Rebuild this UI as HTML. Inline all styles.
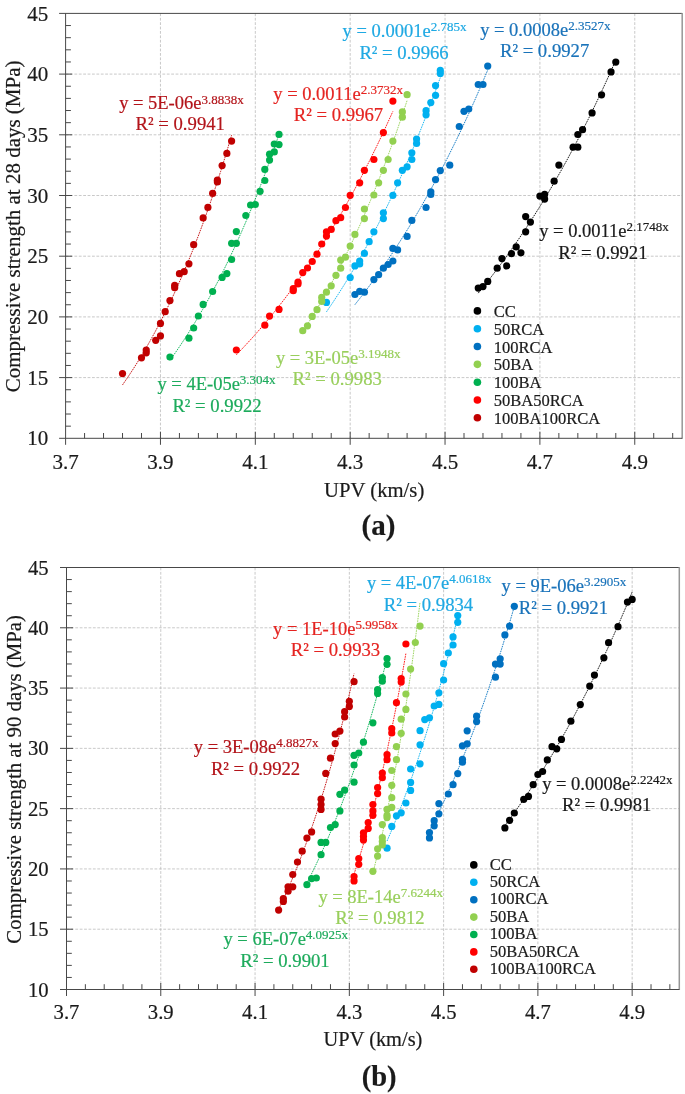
<!DOCTYPE html>
<html><head><meta charset="utf-8"><title>Compressive strength vs UPV</title>
<style>
html,body{margin:0;padding:0;background:#fff;}
body{width:685px;height:1094px;overflow:hidden;}
svg{display:block;font-family:"Liberation Serif","Times New Roman",serif;fill:#1a1a1a;}
text{stroke:#1a1a1a;stroke-width:.2px;}
</style></head><body>
<svg width="685" height="1094" viewBox="0 0 685 1094">
<rect width="685" height="1094" fill="#ffffff"/>
<g id="panel-a">
<path d="M160.46 13.40V438.30M255.32 13.40V438.30M350.18 13.40V438.30M445.04 13.40V438.30M539.90 13.40V438.30M634.76 13.40V438.30M65.60 377.60H682.19M65.60 316.90H682.19M65.60 256.20H682.19M65.60 195.50H682.19M65.60 134.80H682.19M65.60 74.10H682.19" stroke="#b2b2b2" stroke-width="0.7" stroke-dasharray="2.8 1.6" fill="none"/>
<path d="M59.10 13.40H682.19" stroke="#484848" stroke-width="1" fill="none"/>
<path d="M682.19 12.90V438.80" stroke="#969696" stroke-width="1.5" fill="none"/>
<path d="M65.60 13.40V444.80M59.10 438.30H682.19M65.60 426.16H70.90M65.60 414.02H70.90M65.60 401.88H70.90M65.60 389.74H70.90M59.10 377.60H72.10M65.60 365.46H70.90M65.60 353.32H70.90M65.60 341.18H70.90M65.60 329.04H70.90M59.10 316.90H72.10M65.60 304.76H70.90M65.60 292.62H70.90M65.60 280.48H70.90M65.60 268.34H70.90M59.10 256.20H72.10M65.60 244.06H70.90M65.60 231.92H70.90M65.60 219.78H70.90M65.60 207.64H70.90M59.10 195.50H72.10M65.60 183.36H70.90M65.60 171.22H70.90M65.60 159.08H70.90M65.60 146.94H70.90M59.10 134.80H72.10M65.60 122.66H70.90M65.60 110.52H70.90M65.60 98.38H70.90M65.60 86.24H70.90M59.10 74.10H72.10M65.60 61.96H70.90M65.60 49.82H70.90M65.60 37.68H70.90M65.60 25.54H70.90M84.57 438.30V433.00M103.54 438.30V433.00M122.52 438.30V433.00M141.49 438.30V433.00M160.46 431.80V444.80M179.43 438.30V433.00M198.40 438.30V433.00M217.38 438.30V433.00M236.35 438.30V433.00M255.32 431.80V444.80M274.29 438.30V433.00M293.26 438.30V433.00M312.24 438.30V433.00M331.21 438.30V433.00M350.18 431.80V444.80M369.15 438.30V433.00M388.12 438.30V433.00M407.10 438.30V433.00M426.07 438.30V433.00M445.04 431.80V444.80M464.01 438.30V433.00M482.98 438.30V433.00M501.96 438.30V433.00M520.93 438.30V433.00M539.90 431.80V444.80M558.87 438.30V433.00M577.84 438.30V433.00M596.82 438.30V433.00M615.79 438.30V433.00M634.76 431.80V444.80M653.73 438.30V433.00M672.70 438.30V433.00" stroke="#484848" stroke-width="1" fill="none"/>
<polyline points="478.24,293.15 485.12,284.64 492.00,275.87 498.87,266.81 505.75,257.47 512.63,247.83 519.51,237.88 526.38,227.61 533.26,217.01 540.14,206.08 547.01,194.80 553.89,183.16 560.77,171.15 567.65,158.75 574.52,145.96 581.40,132.76 588.28,119.14 595.16,105.08 602.03,90.58 608.91,75.61 615.79,60.17" stroke="#000000" stroke-width="0.9" stroke-dasharray="1.6 0.9" fill="none"/>
<polyline points="354.92,304.66 361.56,296.21 368.20,287.47 374.84,278.44 381.48,269.12 388.12,259.49 394.76,249.53 401.40,239.25 408.04,228.63 414.68,217.65 421.33,206.31 427.97,194.59 434.61,182.49 441.25,169.98 447.89,157.06 454.53,143.71 461.17,129.92 467.81,115.67 474.45,100.95 481.09,85.74 487.73,70.03" stroke="#0070c0" stroke-width="0.9" stroke-dasharray="1.6 0.9" fill="none"/>
<polyline points="326.46,311.87 332.16,303.48 337.85,294.81 343.54,285.85 349.23,276.59 354.92,267.01 360.61,257.10 366.31,246.87 372.00,236.28 377.69,225.34 383.38,214.03 389.07,202.33 394.76,190.24 400.46,177.74 406.15,164.81 411.84,151.45 417.53,137.64 423.22,123.36 428.91,108.60 434.61,93.33 440.30,77.56" stroke="#00b0f0" stroke-width="0.9" stroke-dasharray="1.6 0.9" fill="none"/>
<polyline points="302.75,331.68 307.97,323.56 313.18,315.14 318.40,306.43 323.62,297.41 328.84,288.06 334.05,278.39 339.27,268.36 344.49,257.99 349.71,247.24 354.92,236.11 360.14,224.58 365.36,212.64 370.57,200.27 375.79,187.47 381.01,174.21 386.23,160.48 391.44,146.25 396.66,131.52 401.88,116.27 407.10,100.47" stroke="#92d050" stroke-width="0.9" stroke-dasharray="1.6 0.9" fill="none"/>
<polyline points="169.95,360.32 175.40,352.63 180.85,344.63 186.31,336.32 191.76,327.70 197.22,318.74 202.67,309.43 208.13,299.77 213.58,289.73 219.04,279.31 224.49,268.48 229.94,257.24 235.40,245.56 240.85,233.43 246.31,220.83 251.76,207.74 257.22,194.15 262.67,180.04 268.13,165.37 273.58,150.15 279.04,134.33" stroke="#00b050" stroke-width="0.9" stroke-dasharray="1.6 0.9" fill="none"/>
<polyline points="236.35,354.83 244.17,346.64 252.00,338.14 259.83,329.29 267.65,320.09 275.48,310.52 283.30,300.57 291.13,290.23 298.96,279.47 306.78,268.28 314.61,256.64 322.43,244.54 330.26,231.95 338.09,218.87 345.91,205.26 353.74,191.10 361.56,176.39 369.39,161.08 377.22,145.16 385.04,128.61 392.87,111.40" stroke="#ff0000" stroke-width="0.9" stroke-dasharray="1.6 0.9" fill="none"/>
<polyline points="122.52,384.91 127.97,376.98 133.42,368.69 138.88,360.03 144.33,350.97 149.79,341.50 155.24,331.61 160.70,321.26 166.15,310.44 171.61,299.14 177.06,287.32 182.51,274.96 187.97,262.04 193.42,248.54 198.88,234.43 204.33,219.67 209.79,204.25 215.24,188.12 220.70,171.27 226.15,153.65 231.60,135.23" stroke="#c00000" stroke-width="0.9" stroke-dasharray="1.6 0.9" fill="none"/>
<g fill="#000000"><circle cx="478.24" cy="288.1" r="3.6"/><circle cx="482.98" cy="286.6" r="3.6"/><circle cx="487.73" cy="281.4" r="3.6"/><circle cx="497.21" cy="268.2" r="3.6"/><circle cx="501.96" cy="258.6" r="3.6"/><circle cx="506.70" cy="265.9" r="3.6"/><circle cx="511.44" cy="253.6" r="3.6"/><circle cx="516.19" cy="246.9" r="3.6"/><circle cx="520.93" cy="252.8" r="3.6"/><circle cx="525.67" cy="231.8" r="3.6"/><circle cx="525.67" cy="216.6" r="3.6"/><circle cx="530.41" cy="222.1" r="3.6"/><circle cx="539.90" cy="196.1" r="3.6"/><circle cx="544.64" cy="194.4" r="3.6"/><circle cx="544.64" cy="199.1" r="3.6"/><circle cx="554.13" cy="181.2" r="3.6"/><circle cx="558.87" cy="165.1" r="3.6"/><circle cx="573.10" cy="147.2" r="3.6"/><circle cx="577.84" cy="147.2" r="3.6"/><circle cx="577.84" cy="134.5" r="3.6"/><circle cx="582.59" cy="129.7" r="3.6"/><circle cx="592.07" cy="112.9" r="3.6"/><circle cx="601.56" cy="94.8" r="3.6"/><circle cx="611.05" cy="71.9" r="3.6"/><circle cx="615.79" cy="62.1" r="3.6"/></g>
<g fill="#0070c0"><circle cx="354.92" cy="294.5" r="3.6"/><circle cx="359.67" cy="291.3" r="3.6"/><circle cx="364.41" cy="292.2" r="3.6"/><circle cx="373.89" cy="279.6" r="3.6"/><circle cx="378.64" cy="274.7" r="3.6"/><circle cx="383.38" cy="268.2" r="3.6"/><circle cx="388.12" cy="264.5" r="3.6"/><circle cx="392.87" cy="261.0" r="3.6"/><circle cx="392.87" cy="248.4" r="3.6"/><circle cx="397.61" cy="249.9" r="3.6"/><circle cx="407.10" cy="236.4" r="3.6"/><circle cx="411.84" cy="220.4" r="3.6"/><circle cx="426.07" cy="207.5" r="3.6"/><circle cx="430.81" cy="191.8" r="3.6"/><circle cx="430.81" cy="194.4" r="3.6"/><circle cx="435.55" cy="179.6" r="3.6"/><circle cx="440.30" cy="170.6" r="3.6"/><circle cx="449.78" cy="165.2" r="3.6"/><circle cx="459.27" cy="126.5" r="3.6"/><circle cx="464.01" cy="111.3" r="3.6"/><circle cx="468.75" cy="109.0" r="3.6"/><circle cx="478.24" cy="84.5" r="3.6"/><circle cx="482.98" cy="84.5" r="3.6"/><circle cx="487.73" cy="66.1" r="3.6"/></g>
<g fill="#00b0f0"><circle cx="326.47" cy="302.4" r="3.6"/><circle cx="350.18" cy="277.6" r="3.6"/><circle cx="354.92" cy="265.9" r="3.6"/><circle cx="359.67" cy="261.0" r="3.6"/><circle cx="359.67" cy="264.0" r="3.6"/><circle cx="364.41" cy="253.4" r="3.6"/><circle cx="369.15" cy="241.7" r="3.6"/><circle cx="373.89" cy="231.8" r="3.6"/><circle cx="383.38" cy="218.6" r="3.6"/><circle cx="383.38" cy="212.8" r="3.6"/><circle cx="392.87" cy="195.3" r="3.6"/><circle cx="397.61" cy="182.8" r="3.6"/><circle cx="402.35" cy="170.3" r="3.6"/><circle cx="407.10" cy="166.8" r="3.6"/><circle cx="411.84" cy="159.5" r="3.6"/><circle cx="411.84" cy="152.8" r="3.6"/><circle cx="416.58" cy="139.1" r="3.6"/><circle cx="416.58" cy="143.4" r="3.6"/><circle cx="426.07" cy="110.7" r="3.6"/><circle cx="426.07" cy="114.8" r="3.6"/><circle cx="430.81" cy="102.6" r="3.6"/><circle cx="435.55" cy="95.3" r="3.6"/><circle cx="435.55" cy="85.6" r="3.6"/><circle cx="440.30" cy="70.4" r="3.6"/><circle cx="440.30" cy="73.4" r="3.6"/></g>
<g fill="#92d050"><circle cx="302.75" cy="330.7" r="3.6"/><circle cx="307.49" cy="325.8" r="3.6"/><circle cx="312.24" cy="316.4" r="3.6"/><circle cx="316.98" cy="309.7" r="3.6"/><circle cx="321.72" cy="297.4" r="3.6"/><circle cx="321.72" cy="301.5" r="3.6"/><circle cx="326.47" cy="292.2" r="3.6"/><circle cx="331.21" cy="285.8" r="3.6"/><circle cx="335.95" cy="275.3" r="3.6"/><circle cx="340.69" cy="268.2" r="3.6"/><circle cx="340.69" cy="260.1" r="3.6"/><circle cx="345.44" cy="257.2" r="3.6"/><circle cx="350.18" cy="246.1" r="3.6"/><circle cx="354.92" cy="234.4" r="3.6"/><circle cx="364.41" cy="218.6" r="3.6"/><circle cx="364.41" cy="209.0" r="3.6"/><circle cx="373.89" cy="195.0" r="3.6"/><circle cx="378.64" cy="182.8" r="3.6"/><circle cx="383.38" cy="170.3" r="3.6"/><circle cx="388.12" cy="159.5" r="3.6"/><circle cx="392.87" cy="141.1" r="3.6"/><circle cx="402.35" cy="111.9" r="3.6"/><circle cx="402.35" cy="117.2" r="3.6"/><circle cx="407.10" cy="94.7" r="3.6"/></g>
<g fill="#00b050"><circle cx="279.03" cy="134.4" r="3.6"/><circle cx="274.29" cy="144.0" r="3.6"/><circle cx="279.03" cy="144.6" r="3.6"/><circle cx="274.29" cy="151.9" r="3.6"/><circle cx="269.55" cy="154.2" r="3.6"/><circle cx="269.55" cy="160.1" r="3.6"/><circle cx="264.81" cy="169.4" r="3.6"/><circle cx="264.81" cy="180.5" r="3.6"/><circle cx="260.06" cy="191.3" r="3.6"/><circle cx="255.32" cy="204.5" r="3.6"/><circle cx="250.58" cy="205.0" r="3.6"/><circle cx="245.83" cy="215.5" r="3.6"/><circle cx="236.35" cy="231.6" r="3.6"/><circle cx="231.61" cy="243.3" r="3.6"/><circle cx="236.35" cy="243.3" r="3.6"/><circle cx="231.61" cy="259.5" r="3.6"/><circle cx="226.86" cy="273.6" r="3.6"/><circle cx="222.12" cy="277.4" r="3.6"/><circle cx="212.63" cy="291.5" r="3.6"/><circle cx="203.15" cy="304.4" r="3.6"/><circle cx="198.40" cy="316.0" r="3.6"/><circle cx="193.66" cy="328.0" r="3.6"/><circle cx="188.92" cy="338.2" r="3.6"/><circle cx="169.95" cy="357.0" r="3.6"/></g>
<g fill="#ff0000"><circle cx="236.35" cy="350.0" r="3.6"/><circle cx="264.81" cy="325.2" r="3.6"/><circle cx="269.55" cy="316.1" r="3.6"/><circle cx="279.03" cy="309.4" r="3.6"/><circle cx="293.26" cy="288.7" r="3.6"/><circle cx="293.26" cy="290.7" r="3.6"/><circle cx="298.01" cy="282.0" r="3.6"/><circle cx="298.01" cy="284.0" r="3.6"/><circle cx="302.75" cy="272.6" r="3.6"/><circle cx="307.49" cy="268.0" r="3.6"/><circle cx="312.24" cy="261.5" r="3.6"/><circle cx="316.98" cy="254.2" r="3.6"/><circle cx="321.72" cy="244.0" r="3.6"/><circle cx="326.47" cy="231.8" r="3.6"/><circle cx="326.47" cy="236.1" r="3.6"/><circle cx="331.21" cy="229.4" r="3.6"/><circle cx="335.95" cy="220.7" r="3.6"/><circle cx="340.69" cy="217.7" r="3.6"/><circle cx="345.44" cy="207.5" r="3.6"/><circle cx="350.18" cy="195.3" r="3.6"/><circle cx="359.67" cy="182.8" r="3.6"/><circle cx="364.41" cy="170.3" r="3.6"/><circle cx="373.89" cy="159.5" r="3.6"/><circle cx="383.38" cy="132.6" r="3.6"/><circle cx="392.87" cy="101.1" r="3.6"/></g>
<g fill="#c00000"><circle cx="231.61" cy="141.1" r="3.6"/><circle cx="226.86" cy="153.4" r="3.6"/><circle cx="222.12" cy="165.6" r="3.6"/><circle cx="217.38" cy="180.2" r="3.6"/><circle cx="217.38" cy="182.0" r="3.6"/><circle cx="212.63" cy="193.4" r="3.6"/><circle cx="207.89" cy="207.4" r="3.6"/><circle cx="203.15" cy="217.9" r="3.6"/><circle cx="193.66" cy="244.7" r="3.6"/><circle cx="188.92" cy="263.8" r="3.6"/><circle cx="184.18" cy="271.7" r="3.6"/><circle cx="179.43" cy="273.7" r="3.6"/><circle cx="174.69" cy="285.4" r="3.6"/><circle cx="174.69" cy="287.7" r="3.6"/><circle cx="169.95" cy="300.6" r="3.6"/><circle cx="165.20" cy="311.7" r="3.6"/><circle cx="160.46" cy="323.4" r="3.6"/><circle cx="160.46" cy="335.9" r="3.6"/><circle cx="155.72" cy="340.3" r="3.6"/><circle cx="146.23" cy="350.0" r="3.6"/><circle cx="146.23" cy="352.8" r="3.6"/><circle cx="141.49" cy="357.8" r="3.6"/><circle cx="122.52" cy="373.6" r="3.6"/></g>
<text x="48.2" y="445.40" font-size="21" text-anchor="end">10</text>
<text x="48.2" y="384.70" font-size="21" text-anchor="end">15</text>
<text x="48.2" y="324.00" font-size="21" text-anchor="end">20</text>
<text x="48.2" y="263.30" font-size="21" text-anchor="end">25</text>
<text x="48.2" y="202.60" font-size="21" text-anchor="end">30</text>
<text x="48.2" y="141.90" font-size="21" text-anchor="end">35</text>
<text x="48.2" y="81.20" font-size="21" text-anchor="end">40</text>
<text x="48.2" y="20.50" font-size="21" text-anchor="end">45</text>
<text x="65.60" y="468.9" font-size="21" text-anchor="middle">3.7</text>
<text x="160.46" y="468.9" font-size="21" text-anchor="middle">3.9</text>
<text x="255.32" y="468.9" font-size="21" text-anchor="middle">4.1</text>
<text x="350.18" y="468.9" font-size="21" text-anchor="middle">4.3</text>
<text x="445.04" y="468.9" font-size="21" text-anchor="middle">4.5</text>
<text x="539.90" y="468.9" font-size="21" text-anchor="middle">4.7</text>
<text x="634.76" y="468.9" font-size="21" text-anchor="middle">4.9</text>
<text x="374.2" y="496.7" font-size="20.7" text-anchor="middle">UPV (km/s)</text>
<text transform="translate(20.2 226.4) rotate(-90)" font-size="21" text-anchor="middle">Compressive strength at 28 days (MPa)</text>
<text x="378.4" y="534.8" font-size="29" font-weight="bold" text-anchor="middle">(a)</text>
<circle cx="477.4" cy="310.90" r="3.8" fill="#000000"/>
<text x="493.8" y="316.90" font-size="16.5">CC</text>
<circle cx="477.4" cy="328.72" r="3.8" fill="#00b0f0"/>
<text x="493.8" y="334.72" font-size="16.5">50RCA</text>
<circle cx="477.4" cy="346.54" r="3.8" fill="#0070c0"/>
<text x="493.8" y="352.54" font-size="16.5">100RCA</text>
<circle cx="477.4" cy="364.36" r="3.8" fill="#92d050"/>
<text x="493.8" y="370.36" font-size="16.5">50BA</text>
<circle cx="477.4" cy="382.18" r="3.8" fill="#00b050"/>
<text x="493.8" y="388.18" font-size="16.5">100BA</text>
<circle cx="477.4" cy="400.00" r="3.8" fill="#ff0000"/>
<text x="493.8" y="406.00" font-size="16.5">50BA50RCA</text>
<circle cx="477.4" cy="417.82" r="3.8" fill="#c00000"/>
<text x="493.8" y="423.82" font-size="16.5">100BA100RCA</text>
<text fill="#b3141a" style="stroke:#b3141a" font-size="18.5" text-anchor="middle"><tspan x="181.45" y="109.4">y = 5E-06e</tspan><tspan dy="-5.9" font-size="13">3.8838x</tspan><tspan x="180.25" y="130.3" font-size="18.7">R² = 0.9941</tspan></text>
<text fill="#e52421" style="stroke:#e52421" font-size="18.5" text-anchor="middle"><tspan x="338.1" y="99.8">y = 0.0011e</tspan><tspan dy="-5.9" font-size="13">2.3732x</tspan><tspan x="338.5" y="121.4" font-size="18.7">R² = 0.9967</tspan></text>
<text fill="#1fa9e3" style="stroke:#1fa9e3" font-size="18.5" text-anchor="middle"><tspan x="404.5" y="36.9">y = 0.0001e</tspan><tspan dy="-5.9" font-size="13">2.785x</tspan><tspan x="404.05" y="58.5" font-size="18.7">R² = 0.9966</tspan></text>
<text fill="#1a73ba" style="stroke:#1a73ba" font-size="18.5" text-anchor="middle"><tspan x="545.3" y="36.0">y = 0.0008e</tspan><tspan dy="-5.9" font-size="13">2.3527x</tspan><tspan x="544.6" y="57.0" font-size="18.7">R² = 0.9927</tspan></text>
<text fill="#1a1a1a" style="stroke:#1a1a1a" font-size="18.5" text-anchor="middle"><tspan x="604.0" y="237">y = 0.0011e</tspan><tspan dy="-5.9" font-size="13">2.1748x</tspan><tspan x="602.9" y="258.6" font-size="18.7">R² = 0.9921</tspan></text>
<text fill="#99cf5c" style="stroke:#99cf5c" font-size="18.5" text-anchor="middle"><tspan x="338.2" y="364.0">y = 3E-05e</tspan><tspan dy="-5.9" font-size="13">3.1948x</tspan><tspan x="337.2" y="384.7" font-size="18.7">R² = 0.9983</tspan></text>
<text fill="#1dab5c" style="stroke:#1dab5c" font-size="18.5" text-anchor="middle"><tspan x="216.55" y="390">y = 4E-05e</tspan><tspan dy="-5.9" font-size="13">3.304x</tspan><tspan x="217.05" y="412.0" font-size="18.7">R² = 0.9922</tspan></text>
</g>
<g id="panel-b">
<path d="M160.78 567.50V989.50M255.05 567.50V989.50M349.33 567.50V989.50M443.61 567.50V989.50M537.88 567.50V989.50M632.16 567.50V989.50M66.50 929.21H679.30M66.50 868.93H679.30M66.50 808.64H679.30M66.50 748.36H679.30M66.50 688.07H679.30M66.50 627.79H679.30" stroke="#b2b2b2" stroke-width="0.7" stroke-dasharray="2.8 1.6" fill="none"/>
<path d="M60.00 567.50H679.30" stroke="#484848" stroke-width="1" fill="none"/>
<path d="M679.30 567.00V990.00" stroke="#969696" stroke-width="1.5" fill="none"/>
<path d="M66.50 567.50V996.00M60.00 989.50H679.30M66.50 977.44H71.80M66.50 965.39H71.80M66.50 953.33H71.80M66.50 941.27H71.80M60.00 929.21H73.00M66.50 917.16H71.80M66.50 905.10H71.80M66.50 893.04H71.80M66.50 880.99H71.80M60.00 868.93H73.00M66.50 856.87H71.80M66.50 844.81H71.80M66.50 832.76H71.80M66.50 820.70H71.80M60.00 808.64H73.00M66.50 796.59H71.80M66.50 784.53H71.80M66.50 772.47H71.80M66.50 760.41H71.80M60.00 748.36H73.00M66.50 736.30H71.80M66.50 724.24H71.80M66.50 712.19H71.80M66.50 700.13H71.80M60.00 688.07H73.00M66.50 676.01H71.80M66.50 663.96H71.80M66.50 651.90H71.80M66.50 639.84H71.80M60.00 627.79H73.00M66.50 615.73H71.80M66.50 603.67H71.80M66.50 591.61H71.80M66.50 579.56H71.80M85.36 989.50V984.20M104.21 989.50V984.20M123.07 989.50V984.20M141.92 989.50V984.20M160.78 983.00V996.00M179.63 989.50V984.20M198.49 989.50V984.20M217.34 989.50V984.20M236.20 989.50V984.20M255.05 983.00V996.00M273.91 989.50V984.20M292.76 989.50V984.20M311.62 989.50V984.20M330.48 989.50V984.20M349.33 983.00V996.00M368.19 989.50V984.20M387.04 989.50V984.20M405.90 989.50V984.20M424.75 989.50V984.20M443.61 983.00V996.00M462.46 989.50V984.20M481.32 989.50V984.20M500.17 989.50V984.20M519.03 989.50V984.20M537.88 983.00V996.00M556.74 989.50V984.20M575.60 989.50V984.20M594.45 989.50V984.20M613.31 989.50V984.20M632.16 983.00V996.00M651.02 989.50V984.20M669.87 989.50V984.20" stroke="#484848" stroke-width="1" fill="none"/>
<polyline points="504.89,825.62 511.25,816.97 517.62,808.05 523.98,798.86 530.34,789.39 536.71,779.63 543.07,769.58 549.43,759.22 555.80,748.54 562.16,737.54 568.52,726.20 574.89,714.52 581.25,702.49 587.62,690.09 593.98,677.31 600.34,664.14 606.71,650.57 613.07,636.59 619.43,622.18 625.80,607.34 632.16,592.04" stroke="#000000" stroke-width="0.9" stroke-dasharray="1.6 0.9" fill="none"/>
<polyline points="429.47,830.79 433.71,822.43 437.95,813.83 442.19,804.96 446.44,795.83 450.68,786.43 454.92,776.75 459.16,766.78 463.41,756.51 467.65,745.93 471.89,735.03 476.13,723.81 480.38,712.25 484.62,700.35 488.86,688.09 493.10,675.47 497.35,662.47 501.59,649.07 505.83,635.28 510.07,621.08 514.32,606.44" stroke="#0070c0" stroke-width="0.9" stroke-dasharray="1.6 0.9" fill="none"/>
<polyline points="387.04,841.03 390.58,832.74 394.11,824.20 397.65,815.40 401.18,806.33 404.72,796.98 408.25,787.33 411.79,777.40 415.32,767.15 418.86,756.60 422.40,745.71 425.93,734.49 429.47,722.93 433.00,711.01 436.54,698.72 440.07,686.06 443.61,673.00 447.14,659.54 450.68,645.67 454.21,631.37 457.75,616.63" stroke="#00b0f0" stroke-width="0.9" stroke-dasharray="1.6 0.9" fill="none"/>
<polyline points="372.90,872.80 375.26,863.60 377.61,854.04 379.97,844.11 382.33,833.80 384.68,823.09 387.04,811.96 389.40,800.40 391.76,788.39 394.11,775.92 396.47,762.96 398.83,749.50 401.18,735.52 403.54,721.00 405.90,705.91 408.25,690.24 410.61,673.96 412.97,657.05 415.32,639.49 417.68,621.24 420.04,602.28" stroke="#92d050" stroke-width="0.9" stroke-dasharray="1.6 0.9" fill="none"/>
<polyline points="306.91,883.11 310.91,875.17 314.92,866.95 318.93,858.45 322.93,849.65 326.94,840.54 330.95,831.12 334.95,821.36 338.96,811.26 342.97,800.81 346.97,790.00 350.98,778.80 354.99,767.22 358.99,755.22 363.00,742.81 367.01,729.97 371.01,716.68 375.02,702.92 379.03,688.68 383.03,673.94 387.04,658.69" stroke="#00b050" stroke-width="0.9" stroke-dasharray="1.6 0.9" fill="none"/>
<polyline points="354.04,874.05 356.64,866.13 359.23,857.94 361.82,849.48 364.42,840.74 367.01,831.71 369.60,822.37 372.19,812.71 374.79,802.74 377.38,792.43 379.97,781.77 382.56,770.76 385.16,759.37 387.75,747.61 390.34,735.45 392.93,722.88 395.53,709.89 398.12,696.46 400.71,682.59 403.30,668.25 405.90,653.42" stroke="#ff0000" stroke-width="0.9" stroke-dasharray="1.6 0.9" fill="none"/>
<polyline points="278.62,909.23 282.39,901.29 286.17,893.03 289.94,884.44 293.71,875.51 297.48,866.23 301.25,856.58 305.02,846.55 308.79,836.13 312.56,825.29 316.33,814.02 320.10,802.31 323.88,790.13 327.65,777.47 331.42,764.31 335.19,750.63 338.96,736.41 342.73,721.62 346.50,706.25 350.27,690.27 354.04,673.66" stroke="#c00000" stroke-width="0.9" stroke-dasharray="1.6 0.9" fill="none"/>
<g fill="#000000"><circle cx="504.89" cy="827.9" r="3.6"/><circle cx="509.60" cy="820.3" r="3.6"/><circle cx="514.32" cy="813.0" r="3.6"/><circle cx="523.74" cy="799.3" r="3.6"/><circle cx="528.46" cy="796.4" r="3.6"/><circle cx="533.17" cy="784.7" r="3.6"/><circle cx="537.88" cy="774.5" r="3.6"/><circle cx="542.60" cy="771.5" r="3.6"/><circle cx="547.31" cy="759.9" r="3.6"/><circle cx="552.03" cy="746.7" r="3.6"/><circle cx="556.74" cy="748.8" r="3.6"/><circle cx="561.45" cy="739.4" r="3.6"/><circle cx="570.88" cy="721.2" r="3.6"/><circle cx="580.31" cy="704.6" r="3.6"/><circle cx="589.74" cy="686.1" r="3.6"/><circle cx="594.45" cy="675.1" r="3.6"/><circle cx="603.88" cy="657.8" r="3.6"/><circle cx="608.59" cy="642.7" r="3.6"/><circle cx="618.02" cy="626.7" r="3.6"/><circle cx="627.45" cy="602.1" r="3.6"/><circle cx="632.16" cy="599.4" r="3.6"/></g>
<g fill="#0070c0"><circle cx="514.32" cy="606.3" r="3.6"/><circle cx="509.60" cy="626.1" r="3.6"/><circle cx="504.89" cy="634.9" r="3.6"/><circle cx="500.17" cy="658.8" r="3.6"/><circle cx="495.46" cy="664.1" r="3.6"/><circle cx="500.17" cy="664.1" r="3.6"/><circle cx="495.46" cy="677.2" r="3.6"/><circle cx="476.60" cy="716.2" r="3.6"/><circle cx="476.60" cy="721.6" r="3.6"/><circle cx="467.18" cy="730.8" r="3.6"/><circle cx="467.18" cy="743.8" r="3.6"/><circle cx="462.46" cy="745.8" r="3.6"/><circle cx="462.46" cy="759.3" r="3.6"/><circle cx="462.46" cy="762.2" r="3.6"/><circle cx="457.75" cy="773.6" r="3.6"/><circle cx="453.04" cy="784.7" r="3.6"/><circle cx="448.32" cy="794.0" r="3.6"/><circle cx="438.89" cy="803.6" r="3.6"/><circle cx="438.89" cy="813.8" r="3.6"/><circle cx="434.18" cy="820.7" r="3.6"/><circle cx="434.18" cy="825.8" r="3.6"/><circle cx="429.47" cy="832.5" r="3.6"/><circle cx="429.47" cy="837.9" r="3.6"/></g>
<g fill="#00b0f0"><circle cx="457.75" cy="615.6" r="3.6"/><circle cx="457.75" cy="622.3" r="3.6"/><circle cx="453.04" cy="636.9" r="3.6"/><circle cx="453.04" cy="645.0" r="3.6"/><circle cx="448.32" cy="653.0" r="3.6"/><circle cx="443.61" cy="663.7" r="3.6"/><circle cx="443.61" cy="680.0" r="3.6"/><circle cx="438.89" cy="692.8" r="3.6"/><circle cx="438.89" cy="704.4" r="3.6"/><circle cx="434.18" cy="706.0" r="3.6"/><circle cx="429.47" cy="717.8" r="3.6"/><circle cx="424.75" cy="719.6" r="3.6"/><circle cx="420.04" cy="730.7" r="3.6"/><circle cx="420.04" cy="744.8" r="3.6"/><circle cx="420.04" cy="763.8" r="3.6"/><circle cx="410.61" cy="769.0" r="3.6"/><circle cx="410.61" cy="782.4" r="3.6"/><circle cx="410.61" cy="790.4" r="3.6"/><circle cx="405.90" cy="803.0" r="3.6"/><circle cx="401.18" cy="812.8" r="3.6"/><circle cx="396.47" cy="815.8" r="3.6"/><circle cx="391.76" cy="826.4" r="3.6"/><circle cx="387.04" cy="848.2" r="3.6"/></g>
<g fill="#92d050"><circle cx="420.04" cy="626.1" r="3.6"/><circle cx="415.32" cy="642.5" r="3.6"/><circle cx="410.61" cy="669.1" r="3.6"/><circle cx="405.90" cy="694.0" r="3.6"/><circle cx="405.90" cy="709.4" r="3.6"/><circle cx="401.18" cy="719.2" r="3.6"/><circle cx="401.18" cy="733.3" r="3.6"/><circle cx="396.47" cy="746.6" r="3.6"/><circle cx="396.47" cy="759.7" r="3.6"/><circle cx="391.76" cy="770.5" r="3.6"/><circle cx="391.76" cy="785.3" r="3.6"/><circle cx="391.76" cy="797.7" r="3.6"/><circle cx="391.76" cy="807.4" r="3.6"/><circle cx="387.04" cy="809.4" r="3.6"/><circle cx="387.04" cy="815.3" r="3.6"/><circle cx="387.04" cy="817.6" r="3.6"/><circle cx="382.33" cy="824.6" r="3.6"/><circle cx="382.33" cy="837.7" r="3.6"/><circle cx="382.33" cy="841.5" r="3.6"/><circle cx="382.33" cy="845.0" r="3.6"/><circle cx="377.61" cy="848.8" r="3.6"/><circle cx="377.61" cy="856.1" r="3.6"/><circle cx="372.90" cy="871.3" r="3.6"/></g>
<g fill="#00b050"><circle cx="387.04" cy="658.6" r="3.6"/><circle cx="387.04" cy="664.3" r="3.6"/><circle cx="382.33" cy="677.6" r="3.6"/><circle cx="382.33" cy="681.2" r="3.6"/><circle cx="377.61" cy="689.6" r="3.6"/><circle cx="377.61" cy="693.4" r="3.6"/><circle cx="372.90" cy="722.8" r="3.6"/><circle cx="363.47" cy="742.2" r="3.6"/><circle cx="358.76" cy="753.0" r="3.6"/><circle cx="354.04" cy="755.3" r="3.6"/><circle cx="354.04" cy="765.0" r="3.6"/><circle cx="354.04" cy="782.2" r="3.6"/><circle cx="344.62" cy="790.2" r="3.6"/><circle cx="339.90" cy="794.3" r="3.6"/><circle cx="339.90" cy="810.9" r="3.6"/><circle cx="335.19" cy="824.6" r="3.6"/><circle cx="330.48" cy="827.5" r="3.6"/><circle cx="325.76" cy="842.4" r="3.6"/><circle cx="321.05" cy="842.4" r="3.6"/><circle cx="321.05" cy="854.7" r="3.6"/><circle cx="316.33" cy="878.0" r="3.6"/><circle cx="311.62" cy="878.6" r="3.6"/><circle cx="306.91" cy="884.7" r="3.6"/></g>
<g fill="#ff0000"><circle cx="405.90" cy="644.0" r="3.6"/><circle cx="401.18" cy="678.6" r="3.6"/><circle cx="401.18" cy="682.1" r="3.6"/><circle cx="396.47" cy="702.7" r="3.6"/><circle cx="391.76" cy="728.7" r="3.6"/><circle cx="391.76" cy="733.0" r="3.6"/><circle cx="387.04" cy="754.7" r="3.6"/><circle cx="387.04" cy="759.7" r="3.6"/><circle cx="382.33" cy="773.1" r="3.6"/><circle cx="382.33" cy="777.7" r="3.6"/><circle cx="377.61" cy="787.5" r="3.6"/><circle cx="377.61" cy="793.6" r="3.6"/><circle cx="372.90" cy="804.5" r="3.6"/><circle cx="372.90" cy="810.9" r="3.6"/><circle cx="372.90" cy="815.3" r="3.6"/><circle cx="368.19" cy="822.6" r="3.6"/><circle cx="368.19" cy="828.4" r="3.6"/><circle cx="363.47" cy="832.8" r="3.6"/><circle cx="363.47" cy="836.5" r="3.6"/><circle cx="363.47" cy="840.1" r="3.6"/><circle cx="358.76" cy="858.5" r="3.6"/><circle cx="358.76" cy="864.3" r="3.6"/><circle cx="354.04" cy="876.6" r="3.6"/><circle cx="354.04" cy="880.9" r="3.6"/></g>
<g fill="#c00000"><circle cx="354.04" cy="681.7" r="3.6"/><circle cx="349.33" cy="701.3" r="3.6"/><circle cx="349.33" cy="706.4" r="3.6"/><circle cx="344.62" cy="711.7" r="3.6"/><circle cx="344.62" cy="717.0" r="3.6"/><circle cx="339.90" cy="731.1" r="3.6"/><circle cx="335.19" cy="734.0" r="3.6"/><circle cx="335.19" cy="743.6" r="3.6"/><circle cx="330.48" cy="758.2" r="3.6"/><circle cx="325.76" cy="773.4" r="3.6"/><circle cx="321.05" cy="799.2" r="3.6"/><circle cx="321.05" cy="804.5" r="3.6"/><circle cx="321.05" cy="809.4" r="3.6"/><circle cx="311.62" cy="831.9" r="3.6"/><circle cx="306.91" cy="838.0" r="3.6"/><circle cx="302.19" cy="851.2" r="3.6"/><circle cx="297.48" cy="862.0" r="3.6"/><circle cx="292.76" cy="874.5" r="3.6"/><circle cx="292.76" cy="886.8" r="3.6"/><circle cx="288.05" cy="886.8" r="3.6"/><circle cx="288.05" cy="891.2" r="3.6"/><circle cx="283.34" cy="898.5" r="3.6"/><circle cx="283.34" cy="901.4" r="3.6"/><circle cx="278.62" cy="910.1" r="3.6"/></g>
<text x="48.6" y="996.60" font-size="20.7" text-anchor="end">10</text>
<text x="48.6" y="936.31" font-size="20.7" text-anchor="end">15</text>
<text x="48.6" y="876.03" font-size="20.7" text-anchor="end">20</text>
<text x="48.6" y="815.74" font-size="20.7" text-anchor="end">25</text>
<text x="48.6" y="755.46" font-size="20.7" text-anchor="end">30</text>
<text x="48.6" y="695.17" font-size="20.7" text-anchor="end">35</text>
<text x="48.6" y="634.89" font-size="20.7" text-anchor="end">40</text>
<text x="48.6" y="574.60" font-size="20.7" text-anchor="end">45</text>
<text x="66.50" y="1019.2" font-size="20.7" text-anchor="middle">3.7</text>
<text x="160.78" y="1019.2" font-size="20.7" text-anchor="middle">3.9</text>
<text x="255.05" y="1019.2" font-size="20.7" text-anchor="middle">4.1</text>
<text x="349.33" y="1019.2" font-size="20.7" text-anchor="middle">4.3</text>
<text x="443.61" y="1019.2" font-size="20.7" text-anchor="middle">4.5</text>
<text x="537.88" y="1019.2" font-size="20.7" text-anchor="middle">4.7</text>
<text x="632.16" y="1019.2" font-size="20.7" text-anchor="middle">4.9</text>
<text x="373" y="1045.7" font-size="20.4" text-anchor="middle">UPV (km/s)</text>
<text transform="translate(21.2 779.3) rotate(-90)" font-size="20.8" text-anchor="middle">Compressive strength at 90 days (MPa)</text>
<text x="379.2" y="1085.6" font-size="28.5" font-weight="bold" text-anchor="middle">(b)</text>
<circle cx="473.8" cy="864.90" r="3.8" fill="#000000"/>
<text x="489.7" y="869.50" font-size="16.5">CC</text>
<circle cx="473.8" cy="882.30" r="3.8" fill="#00b0f0"/>
<text x="489.7" y="886.90" font-size="16.5">50RCA</text>
<circle cx="473.8" cy="899.70" r="3.8" fill="#0070c0"/>
<text x="489.7" y="904.30" font-size="16.5">100RCA</text>
<circle cx="473.8" cy="917.10" r="3.8" fill="#92d050"/>
<text x="489.7" y="921.70" font-size="16.5">50BA</text>
<circle cx="473.8" cy="934.50" r="3.8" fill="#00b050"/>
<text x="489.7" y="939.10" font-size="16.5">100BA</text>
<circle cx="473.8" cy="951.90" r="3.8" fill="#ff0000"/>
<text x="489.7" y="956.50" font-size="16.5">50BA50RCA</text>
<circle cx="473.8" cy="969.30" r="3.8" fill="#c00000"/>
<text x="489.7" y="973.90" font-size="16.5">100BA100RCA</text>
<text fill="#1fa9e3" style="stroke:#1fa9e3" font-size="18.5" text-anchor="middle"><tspan x="429.2" y="588.8">y = 4E-07e</tspan><tspan dy="-5.9" font-size="13">4.0618x</tspan><tspan x="428.5" y="611" font-size="18.7">R² = 0.9834</tspan></text>
<text fill="#1a73ba" style="stroke:#1a73ba" font-size="18.5" text-anchor="middle"><tspan x="563.9" y="592.0">y = 9E-06e</tspan><tspan dy="-5.9" font-size="13">3.2905x</tspan><tspan x="563.4" y="614.4" font-size="18.7">R² = 0.9921</tspan></text>
<text fill="#e52421" style="stroke:#e52421" font-size="18.5" text-anchor="middle"><tspan x="335.4" y="635.0">y = 1E-10e</tspan><tspan dy="-5.9" font-size="13">5.9958x</tspan><tspan x="335.5" y="656" font-size="18.7">R² = 0.9933</tspan></text>
<text fill="#b3141a" style="stroke:#b3141a" font-size="18.5" text-anchor="middle"><tspan x="256.15" y="753.1">y = 3E-08e</tspan><tspan dy="-5.9" font-size="13">4.8827x</tspan><tspan x="255.55" y="775.0" font-size="18.7">R² = 0.9922</tspan></text>
<text fill="#1a1a1a" style="stroke:#1a1a1a" font-size="18.5" text-anchor="middle"><tspan x="607.3" y="790.2">y = 0.0008e</tspan><tspan dy="-5.9" font-size="13">2.2242x</tspan><tspan x="606.7" y="811.4" font-size="18.7">R² = 0.9981</tspan></text>
<text fill="#99cf5c" style="stroke:#99cf5c" font-size="18.5" text-anchor="middle"><tspan x="380.7" y="902.7">y = 8E-14e</tspan><tspan dy="-5.9" font-size="13">7.6244x</tspan><tspan x="380" y="923.9" font-size="18.7">R² = 0.9812</tspan></text>
<text fill="#1dab5c" style="stroke:#1dab5c" font-size="18.5" text-anchor="middle"><tspan x="285.8" y="944.6">y = 6E-07e</tspan><tspan dy="-5.9" font-size="13">4.0925x</tspan><tspan x="285" y="966.6" font-size="18.7">R² = 0.9901</tspan></text>
</g>
</svg>
</body></html>
